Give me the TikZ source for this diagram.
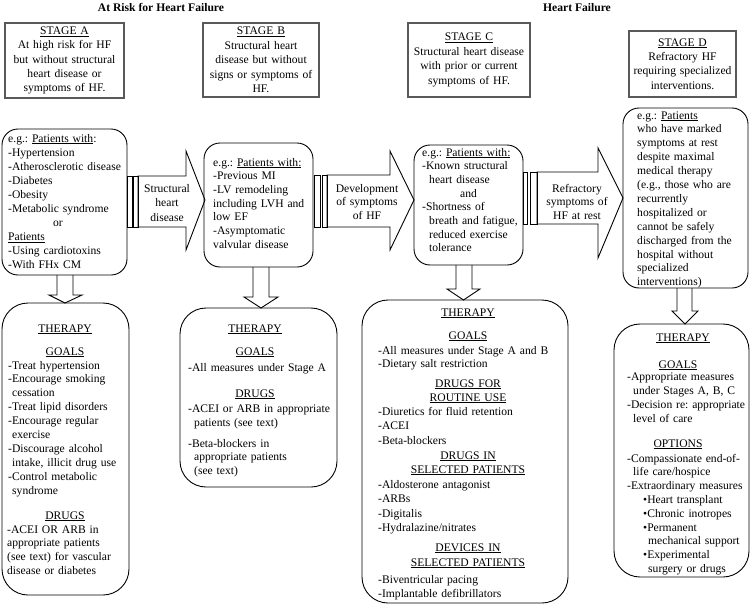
\documentclass[tikz,border=0pt]{standalone}
\usepackage{fontspec}
\setmainfont{Liberation Serif}
\frenchspacing
\begin{document}
\begin{tikzpicture}[x=1pt,y=-1pt,
  stagebox/.style={draw=black!65, line width=1.3pt, inner sep=0pt, align=center,
    font=\fontsize{11.6}{14.4}\selectfont},
  pbox/.style={draw, line width=0.9pt, rounded corners=16pt, inner sep=0pt},
  tbox/.style={draw, line width=0.9pt, rounded corners=26pt, inner sep=0pt},
  fat/.style={draw, line width=0.9pt, line join=miter},
  lt/.style={inner sep=0pt, anchor=base west, align=left, text width=220pt,
    font=\fontsize{11.6}{#1}\selectfont},
  lt/.default=14,
  ct/.style={inner sep=0pt, anchor=base, align=center, text width=200pt,
    font=\fontsize{11.6}{#1}\selectfont},
  ct/.default=14,
  ttl/.style={inner sep=0pt, anchor=base, font=\bfseries\fontsize{11.6}{14}\selectfont}]
\useasboundingbox (0,0) rectangle (750,605);

% titles
\node[ttl] (t1) at (161,11) {At Risk for Heart Failure};
\node[ttl] (t2) at (577,11) {Heart Failure};

% stage boxes
\node[stagebox, minimum width=119pt, minimum height=75pt, text width=117pt] (sa) at (64.5,60.5)
  {\underline{STAGE A}\\At high risk for HF\\but without structural\\heart disease or\\symptoms of HF.};
\node[stagebox, minimum width=116pt, minimum height=74pt, text width=114pt] (sb) at (261,60)
  {\underline{STAGE B}\\Structural heart\\disease but without\\signs or symptoms of\\HF.};
\node[stagebox, minimum width=122pt, minimum height=74pt, text width=120pt] (sc) at (469,60)
  {\underline{STAGE C}\\Structural heart disease\\with prior or current\\symptoms of HF.};
\node[stagebox, minimum width=107pt, minimum height=66pt, text width=105pt] (sd) at (682.5,64)
  {\underline{STAGE D}\\Refractory HF\\requiring specialized\\interventions.};

% patient boxes
\node[pbox, minimum width=125pt, minimum height=146pt] (pa) at (64.5,202) {};
\node[pbox, minimum width=109pt, minimum height=124pt] (pb) at (258.5,205) {};
\node[pbox, minimum width=109pt, minimum height=120pt] (pc) at (468.5,205) {};
\node[pbox, minimum width=125pt, minimum height=180pt] (pd) at (685.5,198) {};

% therapy boxes
\node[tbox, minimum width=127pt, minimum height=292pt] (ta) at (65.5,449) {};
\node[tbox, minimum width=157pt, minimum height=179pt] (tb) at (258.5,397.5) {};
\node[tbox, minimum width=206pt, minimum height=303pt] (tc) at (465,451.5) {};
\node[tbox, minimum width=135pt, minimum height=253pt] (td) at (681.5,450.5) {};

% horizontal fat arrows
\draw[fat] (127,176) rectangle (132,227);
\draw[fat] (133,176) rectangle (138,227);
\draw[fat] (138,176) -- (186,176) -- (186,151) -- (205,200) -- (186,250) -- (186,227) -- (138,227) -- cycle;
\node[ct=14.5] (la) at (167,192) {Structural\\heart\\disease};

\draw[fat] (314,175) rectangle (320,227);
\draw[fat] (322,175) rectangle (327,227);
\draw[fat] (327,175) -- (390,175) -- (390,151) -- (414,200) -- (390,250) -- (390,227) -- (327,227) -- cycle;
\node[ct=13.8] (lb) at (367,192) {Development\\of symptoms\\of HF};

\draw[fat] (523,172) rectangle (527,224);
\draw[fat] (530,172) rectangle (537,224);
\draw[fat] (537,172) -- (598,172) -- (598,148) -- (623,198) -- (598,258) -- (598,224) -- (537,224) -- cycle;
\node[ct=13.6] (lc) at (577,192) {Refractory\\symptoms of\\HF at rest};

% down arrows
\draw[fat] (57,275) -- (57,295) -- (49,295) -- (65,303) -- (82,295) -- (73,295) -- (73,275);
\draw[fat] (253,267) -- (253,297) -- (244,297) -- (261,308) -- (278,297) -- (269,297) -- (269,267);
\draw[fat] (456,265) -- (456,289) -- (447,289) -- (463.5,300) -- (480,289) -- (472,289) -- (472,265);
\draw[fat] (677,288) -- (677,311) -- (672,311) -- (685,324) -- (698,311) -- (692,311) -- (692,288);

% patient texts
\node[lt=14.1] (xa) at (8,142) {e.g.: \underline{Patients with}:\\-Hypertension\\-Atherosclerotic disease\\-Diabetes\\-Obesity\\-Metabolic syndrome\\\hspace*{45pt}or\\\underline{Patients}\\-Using cardiotoxins\\-With FHx CM};
\node[lt=13.7] (xb) at (213,166) {e.g.: \underline{Patients with:}\\-Previous MI\\-LV remodeling\\including LVH and\\low EF\\-Asymptomatic\\valvular disease};
\node[lt=13.7] (xc) at (422,156) {e.g.: \underline{Patients with:}\\-Known structural\\\hspace*{7pt}heart disease\\\hspace*{38pt}and\\-Shortness of\\\hspace*{7pt}breath and fatigue,\\\hspace*{7pt}reduced exercise\\\hspace*{7pt}tolerance};
\node[lt=13.9] (xd) at (637,119) {e.g.: \underline{Patients}\\who have marked\\symptoms at rest\\despite maximal\\medical therapy\\(e.g., those who are\\recurrently\\hospitalized or\\cannot be safely\\discharged from the\\hospital without\\specialized\\interventions)};

% therapy A
\node[ct] (a1) at (65,332) {\underline{THERAPY}};
\node[ct] (a2) at (65,355) {\underline{GOALS}};
\node[lt=13.9] (a3) at (8,369) {-Treat hypertension\\-Encourage smoking\\\hspace*{4pt}cessation\\-Treat lipid disorders\\-Encourage regular\\\hspace*{4pt}exercise\\-Discourage alcohol\\\hspace*{4pt}intake, illicit drug use\\-Control metabolic\\\hspace*{4pt}syndrome};
\node[ct] (a4) at (65,519) {\underline{DRUGS}};
\node[lt=13.9] (a5) at (7,533) {-ACEI OR ARB in\\appropriate patients\\(see text) for vascular\\disease or diabetes};

% therapy B
\node[ct] (b1) at (255,332) {\underline{THERAPY}};
\node[ct] (b2) at (255,355) {\underline{GOALS}};
\node[lt] (b3) at (188,371) {-All measures under Stage A};
\node[ct] (b4) at (255,397) {\underline{DRUGS}};
\node[lt=14] (b5) at (188,412) {-ACEI or ARB in appropriate\\\hspace*{6pt}patients (see text)};
\node[lt=13.5] (b6) at (188,447) {-Beta-blockers in\\\hspace*{6pt}appropriate patients\\\hspace*{6pt}(see text)};

% therapy C
\node[ct] (c1) at (468,316) {\underline{THERAPY}};
\node[ct] (c2) at (468,339) {\underline{GOALS}};
\node[lt=13.5] (c3) at (378,354) {-All measures under Stage A and B\\-Dietary salt restriction};
\node[ct=14] (c4) at (468,387) {\underline{DRUGS FOR}\\\underline{ROUTINE USE}};
\node[lt=14.5] (c5) at (378,415) {-Diuretics for fluid retention\\-ACEI\\-Beta-blockers};
\node[ct=14] (c6) at (468,459) {\underline{DRUGS IN}\\\underline{SELECTED PATIENTS}};
\node[lt=14.6] (c7) at (378,488) {-Aldosterone antagonist\\-ARBs\\-Digitalis\\-Hydralazine/nitrates};
\node[ct=15] (c8) at (468,551) {\underline{DEVICES IN}\\\underline{SELECTED PATIENTS}};
\node[lt=14] (c9) at (378,583) {-Biventricular pacing\\-Implantable defibrillators};

% therapy D
\node[ct] (d1) at (683,341) {\underline{THERAPY}};
\node[ct] (d2) at (678,368) {\underline{GOALS}};
\node[lt=14] (d3) at (627,380) {-Appropriate measures\\\hspace*{6pt}under Stages A, B, C\\-Decision re: appropriate\\\hspace*{6pt}level of care};
\node[ct] (d4) at (678,447) {\underline{OPTIONS}};
\node[lt=13.8] (d5) at (627,462) {-Compassionate end-of-\\\hspace*{6pt}life care/hospice\\-Extraordinary measures\\\hspace*{16pt}•Heart transplant\\\hspace*{16pt}•Chronic inotropes\\\hspace*{16pt}•Permanent\\\hspace*{21pt}mechanical support\\\hspace*{16pt}•Experimental\\\hspace*{21pt}surgery or drugs};
\end{tikzpicture}
\end{document}
